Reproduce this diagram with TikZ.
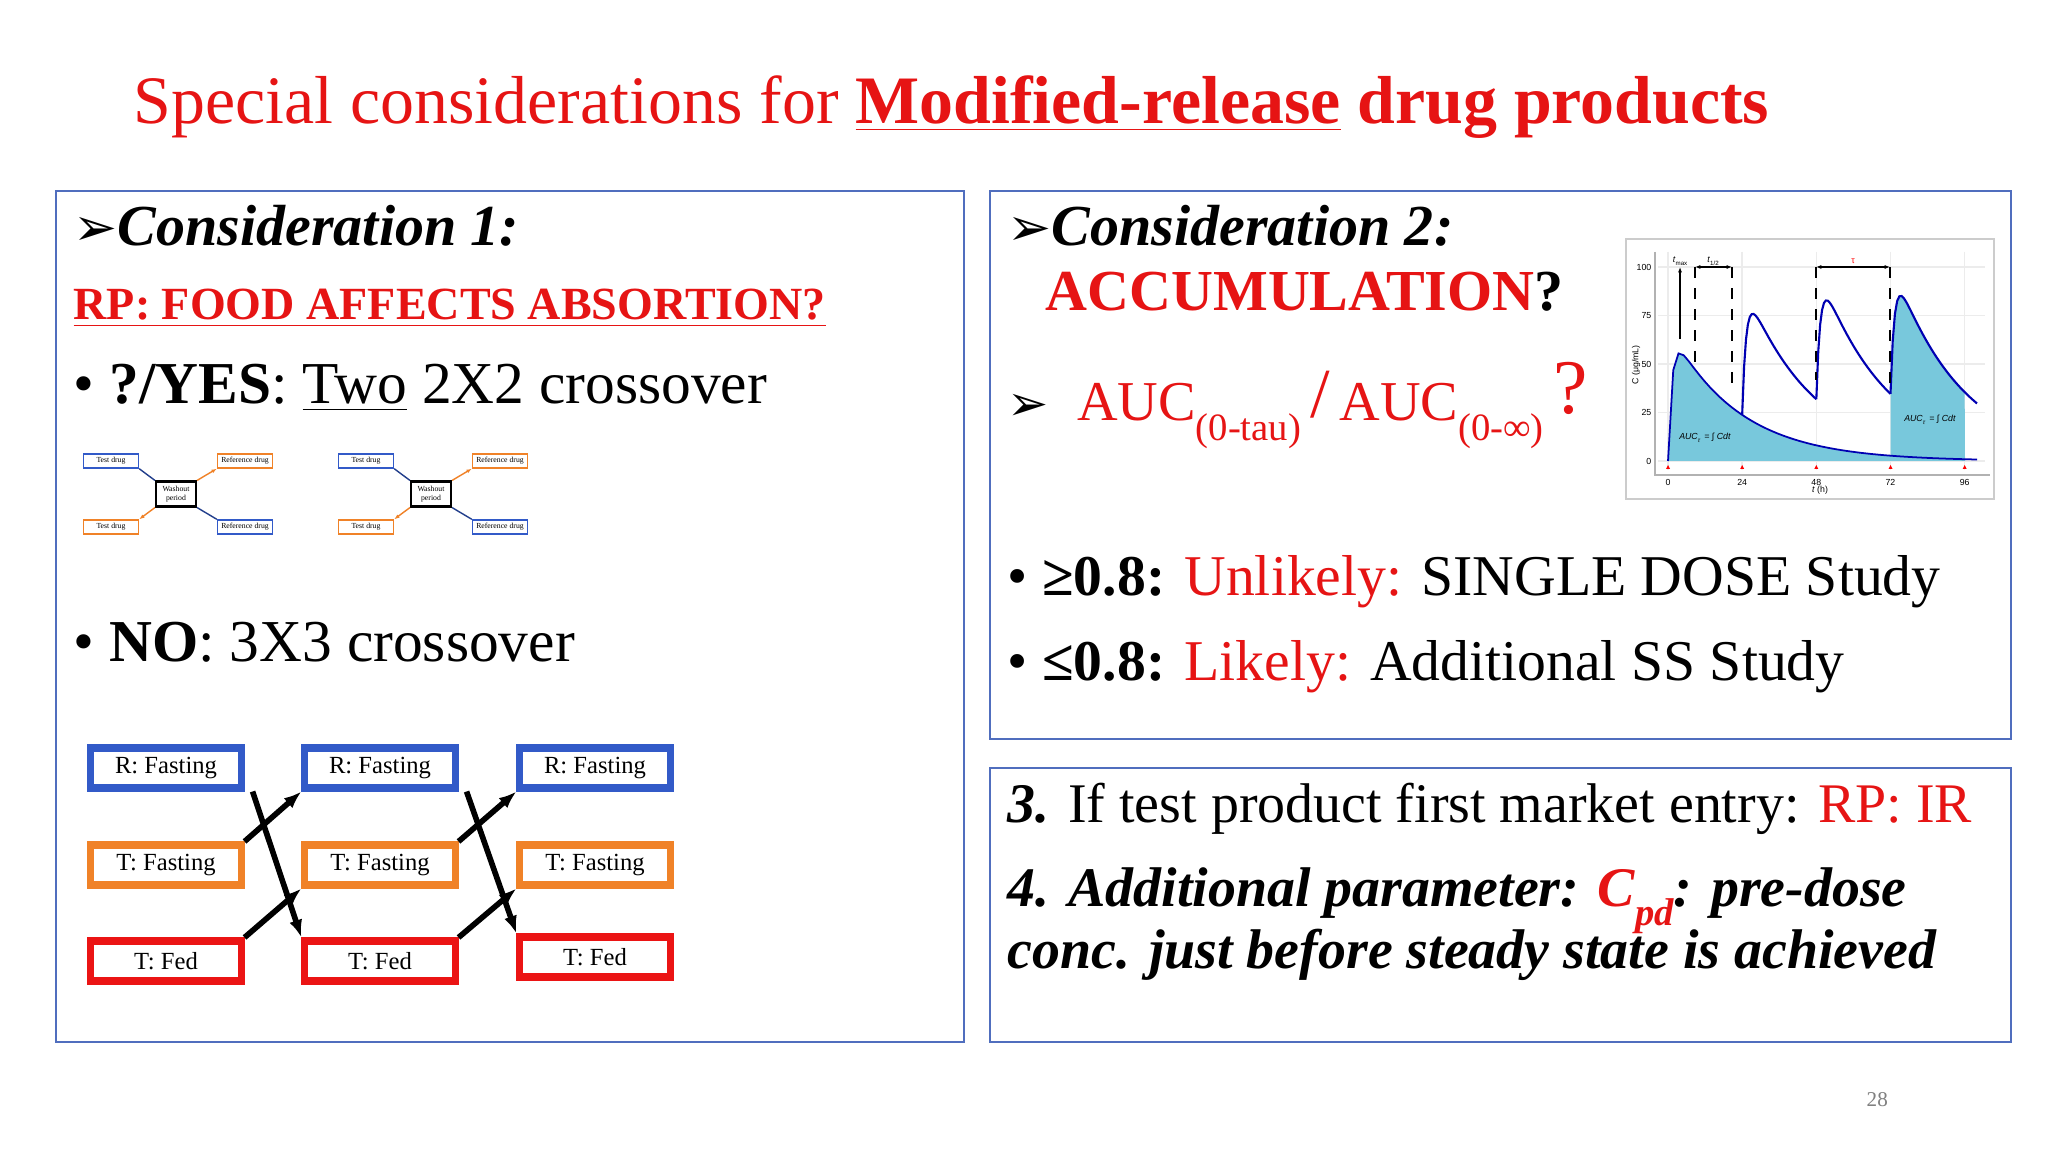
\documentclass[tikz,border=0pt]{standalone}
\usepackage{fontspec}
\setmainfont{Liberation Serif}
\newfontfamily\djv{DejaVu Sans}
\newfontfamily\lsans{Liberation Sans}
\usetikzlibrary{arrows.meta}
\definecolor{myred}{RGB}{230,20,20}
\definecolor{boxblue}{RGB}{80,110,190}
\definecolor{xblue}{RGB}{50,90,200}
\definecolor{xorange}{RGB}{240,130,40}
\definecolor{xred}{RGB}{235,20,20}
\definecolor{fillblue}{RGB}{120,200,220}
\newcommand{\lowsub}[2]{\raisebox{-0.35em}{\fontsize{#1}{#1}\selectfont #2}}
\begin{document}
\begin{tikzpicture}[x=0.01cm,y=-0.01cm,
  panel/.style={draw=boxblue,line width=0.8pt},
  txt/.style={anchor=base west,inner sep=0pt},
  xbox/.style={draw,line width=2pt,minimum width=1.5cm,minimum height=0.4cm,inner sep=0pt,font=\fontsize{7}{8}\selectfont},
  sbox/.style={draw,line width=0.4pt,minimum width=0.55cm,minimum height=0.14cm,inner sep=0pt,font=\fontsize{2.2}{2.5}\selectfont},
  xarr/.style={-{Latex[length=5pt]},line width=1.6pt},
  ctxt/.style={inner sep=0pt,font=\lsans\fontsize{2.5}{3}\selectfont},
  bigf/.style={font=\fontsize{16.5}{19}\selectfont}]
\useasboundingbox (0,0) rectangle (2048,1152);
\fill[white] (0,0) rectangle (2048,1152);
% title
\node[txt,text=myred,font=\fontsize{19.3}{22}\selectfont] (title) at (133,124) {Special considerations for \textbf{\underline{Modified-release}} \textbf{drug products}};
% panels
\draw[panel] (56,191) rectangle (964,1042);
\draw[panel] (990,191) rectangle (2011,739);
\draw[panel] (990,768) rectangle (2011,1042);
\node[txt,text=gray,font=\fontsize{6}{7}\selectfont] (pg) at (1866,1106) {28};
% left panel
\node[txt,bigf] (c1) at (73,246) {{\djv\fontsize{15}{16}\selectfont ➢}\textbf{\textit{Consideration 1:}}};
\node[txt,text=myred,font=\fontsize{13.1}{15}\selectfont\bfseries] (rp) at (73,320) {\underline{RP: FOOD AFFECTS ABSORTION?}};
\node[txt,font=\fontsize{16.9}{19}\selectfont] (yes) at (73,404) {• \textbf{?/YES}: \underline{Two} 2X2 crossover};
\node[txt,font=\fontsize{16.9}{19}\selectfont] (no) at (73,661) {• \textbf{NO}: 3X3 crossover};
% small diagrams
\foreach \o/\n in {0/a,255/b}{
  \node[sbox,draw=xblue] (\n1) at (111+\o,461) {Test drug};
  \node[sbox,draw=xorange] (\n2) at (245+\o,461) {Reference drug};
  \node[sbox,draw=black,line width=0.6pt,minimum width=0.4cm,minimum height=0.25cm,align=center] (\n3) at (176+\o,494) {Washout\\period};
  \node[sbox,draw=xorange] (\n4) at (111+\o,527) {Test drug};
  \node[sbox,draw=xblue] (\n5) at (245+\o,527) {Reference drug};
  \draw[xblue!70!black,line width=0.4pt] (\n1.south east) -- (\n3.north west);
  \draw[xorange,line width=0.4pt,-{Latex[length=1.5pt]}] (\n3.north east) -- (\n2.south west);
  \draw[xorange,line width=0.4pt,-{Latex[length=1.5pt]}] (\n3.south west) -- (\n4.north east);
  \draw[xblue!70!black,line width=0.4pt] (\n3.south east) -- (\n5.north west);
}
% 3x3 crossover
\foreach \c/\x in {1/166,2/380,3/595}{
  \node[xbox,draw=xblue] (r\c) at (\x,768) {R: Fasting};
  \node[xbox,draw=xorange] (f\c) at (\x,865) {T: Fasting};
}
\node[xbox,draw=xred] (d1) at (166,961) {T: Fed};
\node[xbox,draw=xred] (d2) at (380,961) {T: Fed};
\node[xbox,draw=xred] (d3) at (595,957) {T: Fed};
\foreach \a/\b in {1/2,2/3}{
  \draw[xarr] (r\a.south east) ++(8,0) -- (d\b.north west);
  \draw[xarr] (f\a.north east) -- (r\b.south west);
  \draw[xarr] (d\a.north east) -- (f\b.south west);
}
% right top panel
\node[txt,bigf] (c2) at (1007,246) {{\djv\fontsize{15}{16}\selectfont ➢}\textbf{\textit{Consideration 2:}}};
\node[txt,bigf] (acc) at (1045,311) {\textbf{\textcolor{myred}{ACCUMULATION}?}};
\node[txt,font=\fontsize{16}{19}\selectfont] (auc) at (1007,421) {{\djv\fontsize{14}{16}\selectfont ➢}\ \ \textcolor{myred}{AUC\lowsub{11}{(0-tau)}\,\raisebox{1pt}{\fontsize{20}{22}\selectfont/}\,AUC\lowsub{11}{(0-∞)}\,\raisebox{2pt}{\fontsize{22}{24}\selectfont ?}}};
\node[txt,font=\fontsize{16.4}{19}\selectfont] (b1) at (1007,596) {• \textbf{≥0.8:} \textcolor{myred}{Unlikely:} SINGLE DOSE Study};
\node[txt,font=\fontsize{16.4}{19}\selectfont] (b2) at (1007,680) {• \textbf{≤0.8:} \textcolor{myred}{Likely:} Additional SS Study};
% chart
\begin{scope}
\draw[gray!40,line width=0.4pt] (1626,239) rectangle (1994,499);
\draw[gray!60,line width=0.4pt] (1655,252) -- (1655,475) -- (1990,475);
\foreach \t in {0,24,48,72,96}{\draw[gray!15] ({1668+3.09*\t},252) -- ({1668+3.09*\t},470);
  \node[ctxt] (xt\t) at ({1668+3.09*\t},482) {\t};
  \fill[red] ({1668+3.09*\t-2},469) -- ({1668+3.09*\t+2},469) -- ({1668+3.09*\t},465) -- cycle;}
\foreach \v in {0,25,50,75,100}{\draw[gray!15] (1658,{461-1.94*\v}) -- (1985,{461-1.94*\v});
  \node[ctxt,anchor=east] (yt\v) at (1652,{461-1.94*\v}) {\v};}
\node[ctxt] (xl) at (1820,490) {\textit{t} (h)};
\node[ctxt,rotate=90] (yl) at (1636,365) {C (μg/mL)};
\fill[fillblue] (1668,461) -- plot[domain=0:96,samples=60] ({1668+3.09*\x},{461-1.94*70*(exp(-0.045*\x)-exp(-0.8*\x))}) -- (1965,461) -- cycle;
\fill[fillblue] (1890.5,461) -- plot[domain=72:96,samples=30] ({1668+3.09*\x},{461-1.94*70*(exp(-0.045*\x)-exp(-0.8*\x)+exp(-0.045*(\x-24))-exp(-0.8*(\x-24))+exp(-0.045*(\x-48))-exp(-0.8*(\x-48))+exp(-0.045*(\x-72))-exp(-0.8*(\x-72)))}) -- (1965,461) -- cycle;
\draw[blue!70!black,line width=0.5pt] plot[domain=0:100,samples=60] ({1668+3.09*\x},{461-1.94*70*(exp(-0.045*\x)-exp(-0.8*\x))});
\draw[blue!70!black,line width=0.6pt] plot[domain=24:48,samples=40] ({1668+3.09*\x},{461-1.94*70*(exp(-0.045*\x)-exp(-0.8*\x)+exp(-0.045*(\x-24))-exp(-0.8*(\x-24)))});
\draw[blue!70!black,line width=0.6pt] plot[domain=48:72,samples=40] ({1668+3.09*\x},{461-1.94*70*(exp(-0.045*\x)-exp(-0.8*\x)+exp(-0.045*(\x-24))-exp(-0.8*(\x-24))+exp(-0.045*(\x-48))-exp(-0.8*(\x-48)))});
\draw[blue!70!black,line width=0.6pt] plot[domain=72:100,samples=40] ({1668+3.09*\x},{461-1.94*70*(exp(-0.045*\x)-exp(-0.8*\x)+exp(-0.045*(\x-24))-exp(-0.8*(\x-24))+exp(-0.045*(\x-48))-exp(-0.8*(\x-48))+exp(-0.045*(\x-72))-exp(-0.8*(\x-72)))});
\draw[dashed,line width=0.3pt] (1695,267) -- (1695,370) (1732,267) -- (1732,392);
\draw[dashed,line width=0.3pt] (1816,267) -- (1816,380) (1890,267) -- (1890,385);
\draw[line width=0.3pt,-{Latex[length=1.5pt]}] (1680,339) -- (1680,267);
\draw[line width=0.3pt,{Latex[length=1.5pt]}-{Latex[length=1.5pt]}] (1695,267) -- (1732,267);
\draw[line width=0.3pt,{Latex[length=1.5pt]}-{Latex[length=1.5pt]}] (1816,267) -- (1890,267);
\node[ctxt] (tm) at (1681,261) {\textit{t}\textsubscript{max}};
\node[ctxt] (th) at (1714,261) {\textit{t}\textsubscript{1/2}};
\node[ctxt,text=red] (tau) at (1853,261) {τ};
\node[ctxt] (a1) at (1705,438) {\textit{AUC\textsubscript{τ} = ∫ Cdt}};
\node[ctxt] (a2) at (1930,420) {\textit{AUC\textsubscript{τ} = ∫ Cdt}};
\end{scope}
% right bottom panel
\node[txt,font=\fontsize{15.9}{18}\selectfont] (p3) at (1007,822) {\textbf{\textit{3.}} If test product first market entry: \textcolor{myred}{RP: IR}};
\node[txt,font=\fontsize{15.9}{18}\selectfont\bfseries\itshape] (p4) at (1007,906) {4. Additional parameter: \textcolor{myred}{C\lowsub{11}{pd}}: pre-dose};
\node[txt,font=\fontsize{15.9}{18}\selectfont\bfseries\itshape] (p5) at (1007,968) {conc. just before steady state is achieved};
\end{tikzpicture}
\end{document}
